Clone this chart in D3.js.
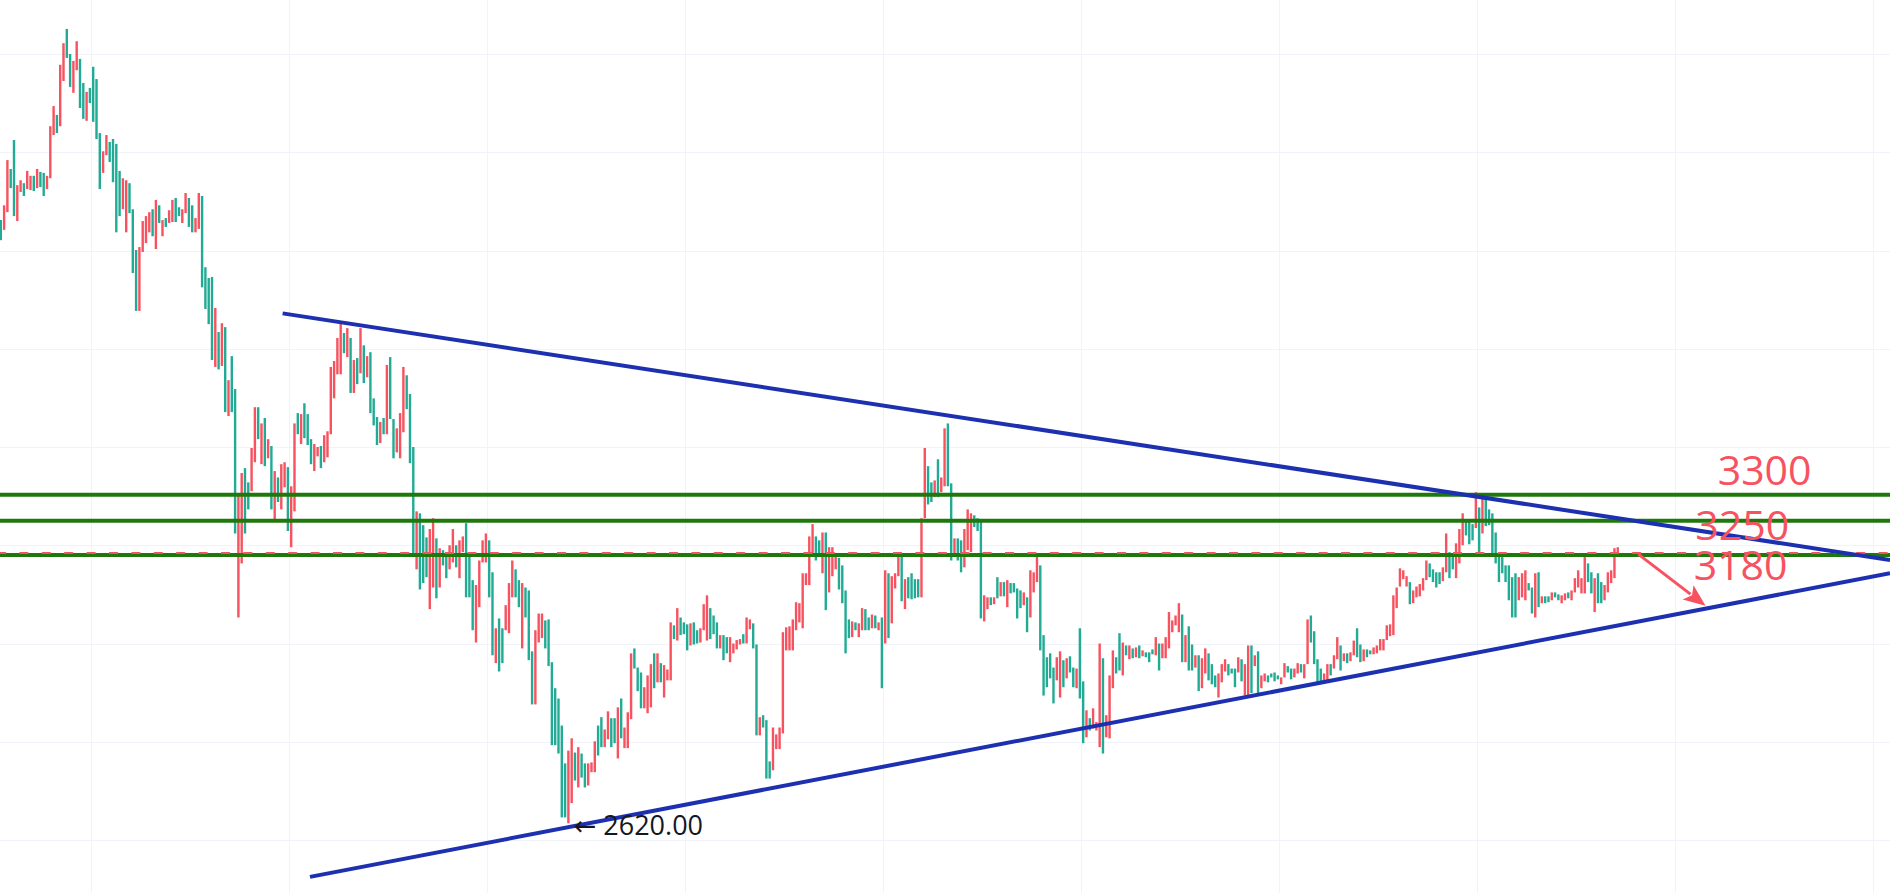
<!DOCTYPE html>
<html><head><meta charset="utf-8">
<script src="https://cdn.jsdelivr.net/npm/d3@7"></script>
<style>html,body{margin:0;padding:0;background:#fff;overflow:hidden}</style>
</head><body><svg id="chart" width="1890" height="893"></svg>
<script>
// ---- data ----
const opens = [
3862,3842,3878,3966,4025,3860,3919,3937,3925,3923,
3952,3927,3960,3958,3925,3947,4035,4076,4053,4145,
4251,4200,4121,4167,4190,4141,4064,4131,4174,4149,
4039,3958,3994,4021,4027,4017,3962,3884,3837,3937,
3884,3801,3677,3797,3815,3837,3884,3803,3892,3829,
3866,3856,3858,3907,3888,3856,3876,3907,3892,3837,
3844,3911,3766,3744,3746,3563,3634,3565,3644,3463,
3585,3518,3053,3163,3357,3328,3310,3369,3481,3365,
3459,3377,3402,3253,3338,3273,3318,3359,3196,3269,
3469,3406,3489,3467,3416,3351,3381,3402,3369,3379,
3426,3499,3548,3548,3632,3583,3622,3510,3581,3550,
3607,3542,3593,3499,3461,3408,3459,3426,3583,3457,
3389,3377,3430,3546,3508,3400,3151,3265,3241,3216,
3070,3114,3214,3114,3190,3186,3151,3165,3200,3133,
3186,3245,3180,3129,3002,3074,3165,3165,3210,3145,
2960,3051,3031,3027,3021,3094,3151,3129,2990,3114,
3108,2984,2876,3002,3011,3047,3049,2962,2909,2888,
2833,2756,2634,2675,2778,2707,2776,2756,2711,2738,
2738,2833,2850,2789,2805,2848,2848,2766,2888,2787,
2787,2846,2990,2951,2941,2868,2858,2870,2980,2921,
2960,2890,2925,2925,3037,3006,3053,3043,3039,2996,
3043,3027,3002,3027,3006,3072,3057,3043,2990,3017,
3013,2962,2980,2988,2998,3019,3000,3029,3041,2998,
2813,2854,2844,2760,2742,2785,2785,2817,2986,2986,
2986,3027,3043,3031,3119,3119,3184,3218,3210,3143,
3226,3104,3137,3151,3174,3159,3108,3049,3013,3043,
3013,3027,3070,3053,3031,3057,3027,3053,3000,3143,
3041,3112,3137,3182,3070,3135,3143,3131,3131,3094,
3255,3361,3328,3298,3375,3308,3320,3448,3326,3184,
3214,3210,3155,3190,3186,3261,3255,3249,3045,3070,
3094,3080,3135,3096,3125,3074,3123,3123,3112,3108,
3078,3094,3053,3104,3125,3159,3017,2972,2980,2951,
2925,2890,2966,2929,2974,2951,2909,3031,2923,2809,
2848,2827,2823,2789,2970,2809,2807,2909,2972,3021,
2935,2996,2968,2990,2972,2996,2974,2982,2982,2988,
2976,3000,2970,2970,2990,3023,3037,3023,3059,2962,
3035,2998,2951,2976,2909,2939,2980,2958,2935,2890,
2921,2943,2958,2949,2949,2941,2968,2894,2894,2996,
2954,2984,2909,2923,2935,2939,2941,2935,2917,2931,
2954,2949,2931,2939,2958,2929,2958,3057,3025,2968,
2949,2923,2923,2958,2949,2968,2996,2964,2980,2964,
2976,3031,2998,2964,2988,2986,2978,2980,2986,2986,
3007,3015,3017,3072,3116,3131,3116,3125,3082,3094,
3096,3108,3129,3163,3151,3145,3145,3127,3145,3186,
3180,3133,3163,3200,3253,3253,3243,3235,3277,3224,
3294,3273,3265,3226,3178,3176,3159,3159,3135,3143,
3088,3094,3088,3123,3114,3053,3145,3082,3096,3096,
3088,3104,3100,3082,3088,3104,3088,3104,3114,3102,
3102,3163,3145,3064,3143,3125,3088,3104,3123,3133,
3184];
const closes = [
3821,3892,3984,3927,3870,3933,3943,3911,3962,3952,
3921,3966,3929,3911,3952,4053,4094,4039,4178,4222,
4192,4133,4186,4226,4090,4068,4123,4100,4062,4027,
3925,4002,4035,3980,3939,3837,3870,3947,3943,3876,
3754,3677,3807,3860,3870,3878,3829,3903,3856,3862,
3848,3882,3903,3858,3870,3884,3917,3848,3837,3866,
3917,3725,3681,3650,3577,3683,3558,3652,3471,3536,
3471,3224,3306,3347,3224,3273,3398,3481,3416,3448,
3361,3416,3273,3351,3288,3365,3369,3229,3320,3448,
3426,3467,3418,3404,3365,3406,3400,3357,3424,3432,
3563,3575,3622,3654,3591,3642,3510,3577,3528,3642,
3530,3585,3469,3444,3404,3451,3426,3567,3457,3377,
3438,3469,3563,3477,3367,3176,3269,3110,3123,3135,
3233,3255,3092,3194,3159,3133,3200,3233,3155,3210,
3218,3094,3094,3027,3119,3169,3210,3224,3094,2976,
3031,2943,2960,3078,3123,3169,3094,3074,3123,3053,
2966,2876,3027,3061,3061,2990,2954,2793,2793,2776,
2646,2646,2782,2807,2721,2789,2727,2707,2756,2758,
2801,2772,2789,2825,2862,2789,2797,2870,2807,2829,
2860,2980,2949,2903,2868,2911,2935,2958,2909,2980,
2921,2956,2947,3043,3009,3072,3017,3019,2986,3041,
2998,3000,3031,3080,3098,3009,3019,2990,3017,2966,
2980,3013,3000,3007,3009,3000,3053,3049,2990,2813,
2850,2829,2725,2725,2829,2815,2829,3023,3033,3035,
3049,3084,3082,3143,3143,3218,3243,3169,3178,3226,
3068,3196,3196,3180,3110,3082,2980,3011,3045,3027,
3041,3072,3027,3027,3059,3031,3043,2909,3149,3011,
3137,3143,3176,3086,3131,3092,3090,3092,3094,3255,
3398,3283,3288,3332,3298,3338,3438,3320,3169,3214,
3169,3145,3233,3273,3265,3237,3229,3051,3098,3094,
3078,3094,3092,3125,3096,3129,3102,3104,3051,3072,
3104,3023,3149,3145,3178,2986,2894,2911,2929,2878,
2972,2984,2911,2970,2941,2911,2949,2888,2797,2864,
2823,2868,2840,3000,2776,2854,2935,2986,2939,2945,
3002,2976,2996,2970,2992,2970,2986,2972,2962,2978,
3013,2945,3000,3013,3064,3047,3057,3082,2962,3017,
2945,2945,2976,2903,2970,2990,2925,2917,2911,2939,
2958,2968,2935,2939,2911,2972,2923,2958,2996,2899,
2976,2899,2935,2939,2921,2931,2923,2927,2931,2960,
2941,2927,2949,2960,2941,2958,3049,3002,2958,2921,
2923,2939,2958,2935,2976,3013,2945,2980,2960,2982,
3006,2972,2962,2988,2972,2978,2992,2996,3009,3009,
3037,3039,3098,3114,3153,3149,3137,3080,3108,3116,
3121,3133,3169,3135,3125,3114,3121,3155,3224,3133,
3151,3204,3233,3265,3220,3202,3210,3308,3184,3298,
3239,3241,3182,3163,3125,3143,3125,3088,3053,3053,
3135,3143,3149,3108,3061,3143,3074,3096,3082,3084,
3104,3094,3088,3098,3102,3092,3108,3133,3149,3133,
3176,3125,3102,3133,3082,3082,3119,3145,3149,3194,
3196];
const priceGridValues = [2600, 2800, 3000, 3200, 3400, 3600, 3800, 4000, 4200];
const levelValues = [3303, 3250, 3180];
const levelLabels = ["3300", "3250", "3180"];
const levelLabelAnchors = [[520.3, 3322], [513.5, 3211], [513.0, 3129]]; // [bar index, price]
const lastPrice = 3184;
const upperTrend = [[85.4, 3672], [572.5, 3170]];
const lowerTrend = [[93.7, 2525], [572.5, 3143]];
const arrowPath = [[496.2, 3182], [516.6, 3077]];
const lowNote = { text: "\u2190 2620.00", at: [173.6, 2611] };

// ---- drawing ----
const W = 1890, H = 893;
const svg = d3.select("#chart");
svg.append("rect").attr("width", W).attr("height", H).attr("fill", "#ffffff");

const x = d3.scaleLinear().domain([0, 572.5]).range([0.8, 1890]);
const y = d3.scaleLinear().domain([2600, 4200]).range([840, 54]);

const candles = opens.map((o, i) => ({ i, o, c: closes[i] }));
const timeGrid = d3.range(27.25, 573, 60);

// grid
svg.append("g").selectAll("line").data(priceGridValues).join("line")
  .attr("x1", 0).attr("x2", W)
  .attr("y1", d => Math.round(y(d)) + 0.5).attr("y2", d => Math.round(y(d)) + 0.5)
  .attr("stroke", "#f0f3fa").attr("stroke-width", 1);
svg.append("g").selectAll("line").data(timeGrid).join("line")
  .attr("y1", 0).attr("y2", H)
  .attr("x1", d => Math.round(x(d)) + 0.5).attr("x2", d => Math.round(x(d)) + 0.5)
  .attr("stroke", "#f0f3fa").attr("stroke-width", 1);

// candles (red = up, green = down)
const UP = "#F7525F", DOWN = "#22AB94";
const bw = 2.4;
svg.append("g").selectAll("rect").data(candles).join("rect")
  .attr("x", d => x(d.i) - bw / 2)
  .attr("width", bw)
  .attr("y", d => y(Math.max(d.o, d.c)))
  .attr("height", d => Math.max(1, y(Math.min(d.o, d.c)) - y(Math.max(d.o, d.c))))
  .attr("fill", d => d.c >= d.o ? UP : DOWN);

// horizontal levels
svg.append("g").selectAll("line").data(levelValues).join("line")
  .attr("x1", 0).attr("x2", W)
  .attr("y1", d => y(d)).attr("y2", d => y(d))
  .attr("stroke", "#1f780c").attr("stroke-width", 4);

// last price dashed line
svg.append("line")
  .attr("x1", 0).attr("x2", W)
  .attr("y1", y(lastPrice)).attr("y2", y(lastPrice))
  .attr("stroke", UP).attr("stroke-width", 2)
  .attr("stroke-dasharray", "9,13.4").attr("stroke-dashoffset", 3);

// trend lines
const line = d3.line().x(d => x(d[0])).y(d => y(d[1]));
[upperTrend, lowerTrend].forEach(t => {
  svg.append("path").attr("d", line(t))
    .attr("fill", "none").attr("stroke", "#1c30b0").attr("stroke-width", 4);
});

// red arrow
{
  const x0 = x(arrowPath[0][0]), y0 = y(arrowPath[0][1]);
  const x1 = x(arrowPath[1][0]), y1 = y(arrowPath[1][1]);
  const dx = x1 - x0, dy = y1 - y0, L = Math.hypot(dx, dy);
  const ux = dx / L, uy = dy / L, hl = 22, hw = 9;
  const bx = x1 - ux * hl, by = y1 - uy * hl;
  svg.append("line").attr("x1", x0).attr("y1", y0).attr("x2", bx + ux * 3).attr("y2", by + uy * 3)
    .attr("stroke", UP).attr("stroke-width", 3);
  svg.append("path")
    .attr("d", `M${x1},${y1}L${bx - uy * hw},${by + ux * hw}L${bx + ux * 5},${by + uy * 5}L${bx + uy * hw},${by - ux * hw}Z`)
    .attr("fill", UP);
}

// level labels
svg.append("g").selectAll("text").data(levelLabels).join("text")
  .attr("x", (d, k) => x(levelLabelAnchors[k][0]))
  .attr("y", (d, k) => y(levelLabelAnchors[k][1]))
  .attr("font-family", "'Open Sans', 'Noto Sans', sans-serif")
  .attr("font-size", 41)
  .attr("fill", UP)
  .text(d => d);

// low note
svg.append("text")
  .attr("x", x(lowNote.at[0])).attr("y", y(lowNote.at[1]))
  .attr("font-family", "'Open Sans', 'Noto Sans', 'DejaVu Sans', sans-serif")
  .attr("font-size", 27)
  .attr("fill", "#131722")
  .text(lowNote.text);
</script>
</body></html>
